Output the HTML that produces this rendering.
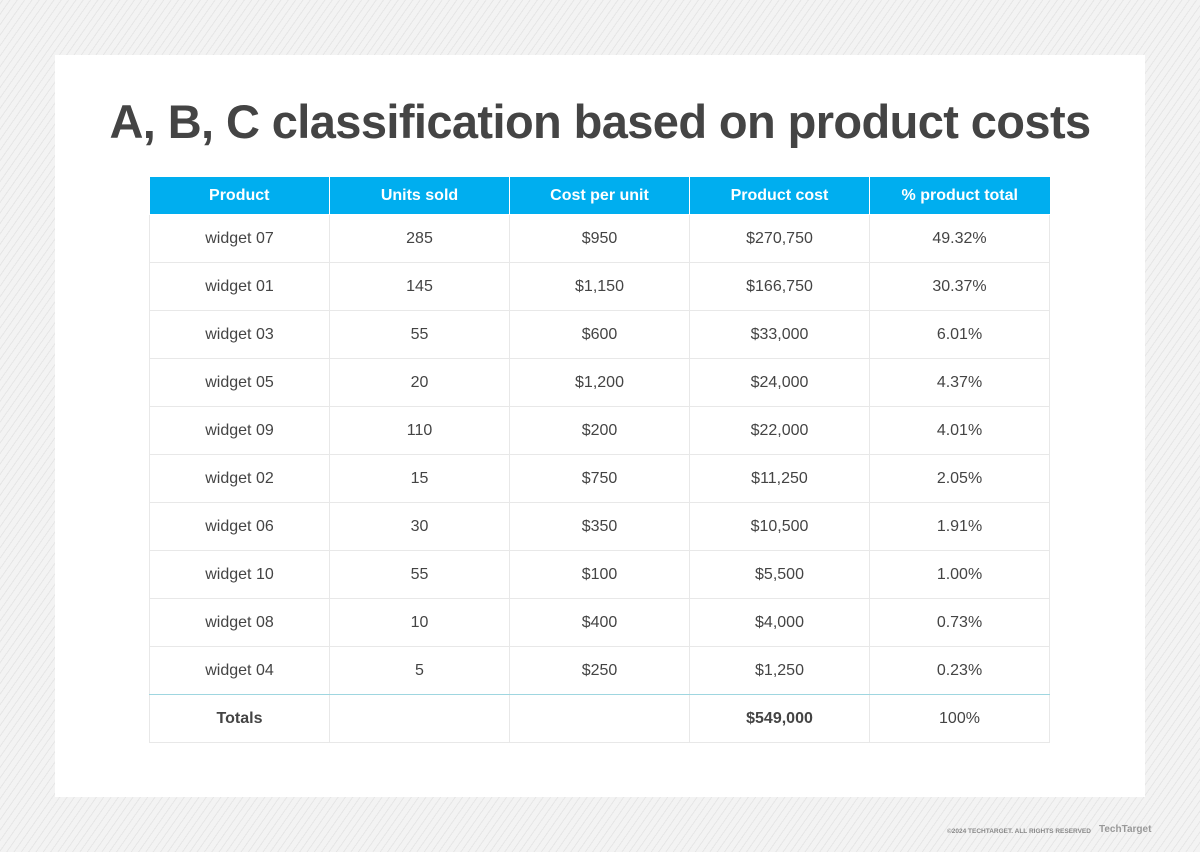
<!DOCTYPE html>
<html><head><meta charset="utf-8"><style>
html,body{margin:0;padding:0}
body{width:1200px;height:852px;position:relative;overflow:hidden;font-family:"Liberation Sans",sans-serif;
background:#f1f1f1 repeating-linear-gradient(-55deg,#f3f3f3 0 5px,#e6e6e6 5px 6px);}
.card{position:absolute;left:55px;top:55px;width:1090px;height:742px;background:#fff}
h1{position:absolute;left:0;top:94px;width:1200px;margin:0;text-align:center;font-size:47px;font-weight:bold;color:#444;letter-spacing:-0.6px}
table{position:absolute;left:149px;top:177px;border-collapse:collapse;table-layout:fixed;width:900px}
td,th{text-align:center;font-size:16px;color:#444;border:1px solid #e8e8e8;padding:0}
th{background:#00aeef;color:#fff;height:37px;border:1px solid #fff;border-top:none;font-weight:bold;font-size:16px}
th:first-child{border-left:none}th:last-child{border-right:none}
td{height:47px}
tr.last td{border-bottom:1px solid #9fd6e0}
tr.tot td.b{font-weight:bold}
.foot{position:absolute;left:947px;top:828px;font-size:6.5px;color:#888;font-weight:bold;white-space:nowrap}
.logo{position:absolute;left:1099px;top:824px;font-size:10px;color:#999;font-weight:bold}
</style></head><body>
<div class="card"></div>
<h1>A, B, C classification based on product costs</h1>
<table>
<colgroup><col style="width:180px"><col style="width:180px"><col style="width:180px"><col style="width:180px"><col style="width:180px"></colgroup>
<tr><th>Product</th><th>Units sold</th><th>Cost per unit</th><th>Product cost</th><th>% product total</th></tr>
<tr><td>widget 07</td><td>285</td><td>$950</td><td>$270,750</td><td>49.32%</td></tr>
<tr><td>widget 01</td><td>145</td><td>$1,150</td><td>$166,750</td><td>30.37%</td></tr>
<tr><td>widget 03</td><td>55</td><td>$600</td><td>$33,000</td><td>6.01%</td></tr>
<tr><td>widget 05</td><td>20</td><td>$1,200</td><td>$24,000</td><td>4.37%</td></tr>
<tr><td>widget 09</td><td>110</td><td>$200</td><td>$22,000</td><td>4.01%</td></tr>
<tr><td>widget 02</td><td>15</td><td>$750</td><td>$11,250</td><td>2.05%</td></tr>
<tr><td>widget 06</td><td>30</td><td>$350</td><td>$10,500</td><td>1.91%</td></tr>
<tr><td>widget 10</td><td>55</td><td>$100</td><td>$5,500</td><td>1.00%</td></tr>
<tr><td>widget 08</td><td>10</td><td>$400</td><td>$4,000</td><td>0.73%</td></tr>
<tr class="last"><td>widget 04</td><td>5</td><td>$250</td><td>$1,250</td><td>0.23%</td></tr>
<tr class="tot"><td class="b">Totals</td><td></td><td></td><td class="b">$549,000</td><td>100%</td></tr>
</table>
<div class="foot">©2024 TECHTARGET. ALL RIGHTS RESERVED</div>
<div class="logo">TechTarget</div>
</body></html>
